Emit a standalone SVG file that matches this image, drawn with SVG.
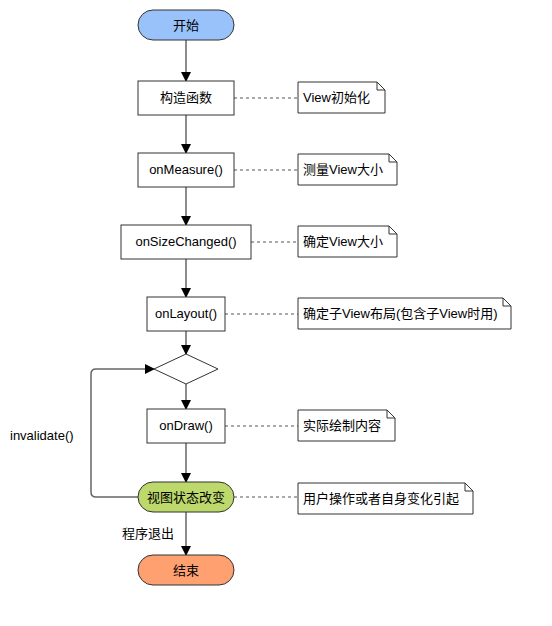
<svg xmlns="http://www.w3.org/2000/svg" width="552" height="626" viewBox="0 0 552 626">
<defs>
<marker id="arr" markerWidth="10" markerHeight="10" refX="9" refY="5" orient="auto" markerUnits="userSpaceOnUse">
<path d="M0,0 L10,5 L0,10 Z" fill="#000"/>
</marker>
<style>
text{font-family:"Liberation Sans","Noto Sans CJK SC",sans-serif;font-size:13px;fill:#000;}
.box{fill:#fff;stroke:#333;stroke-width:1;}
.note{fill:#fff;stroke:#333;stroke-width:1;}
.flow{fill:none;stroke:#666;stroke-width:1.5;}
.dash{fill:none;stroke:#555;stroke-width:1;stroke-dasharray:3,3;}
</style>
</defs>
<rect width="552" height="626" fill="#fff"/>
<g id="connectors">
<line class="flow" x1="186" y1="40" x2="186" y2="81" marker-end="url(#arr)"/>
<line class="flow" x1="186" y1="115" x2="186" y2="153" marker-end="url(#arr)"/>
<line class="flow" x1="186" y1="187" x2="186" y2="225" marker-end="url(#arr)"/>
<line class="flow" x1="186" y1="259" x2="186" y2="297" marker-end="url(#arr)"/>
<line class="flow" x1="186" y1="331" x2="186" y2="354" marker-end="url(#arr)"/>
<line class="flow" x1="186" y1="384" x2="186" y2="409" marker-end="url(#arr)"/>
<line class="flow" x1="186" y1="443" x2="186" y2="482" marker-end="url(#arr)"/>
<line class="flow" x1="186" y1="512" x2="186" y2="555" marker-end="url(#arr)"/>
<path class="flow" d="M138,497 L96,497 Q91,497 91,492 L91,374 Q91,369 96,369 L154,369" marker-end="url(#arr)"/>
<line class="dash" x1="234" y1="98" x2="298" y2="98"/>
<line class="dash" x1="234" y1="170" x2="298" y2="170"/>
<line class="dash" x1="251" y1="242" x2="298" y2="242"/>
<line class="dash" x1="225" y1="314" x2="298" y2="314"/>
<line class="dash" x1="225" y1="426" x2="298" y2="426"/>
<line class="dash" x1="234" y1="497" x2="298" y2="497"/>
<text x="10" y="440">invalidate()</text>
<text x="122" y="538">程序退出</text>
</g>
<g id="start">
<rect x="138" y="10" width="96" height="30" rx="15" fill="#99c2fa" stroke="#333"/>
<text x="186" y="30" text-anchor="middle">开始</text>
</g>
<g id="ctor">
<rect class="box" x="138" y="81" width="96" height="34"/>
<text x="186" y="102" text-anchor="middle">构造函数</text>
</g>
<g id="onMeasure">
<rect class="box" x="138" y="153" width="96" height="34"/>
<text x="186" y="174" text-anchor="middle">onMeasure()</text>
</g>
<g id="onSizeChanged">
<rect class="box" x="121" y="225" width="130" height="34"/>
<text x="186" y="246" text-anchor="middle">onSizeChanged()</text>
</g>
<g id="onLayout">
<rect class="box" x="147" y="297" width="78" height="34"/>
<text x="186" y="318" text-anchor="middle">onLayout()</text>
</g>
<g id="decision">
<polygon class="box" points="186,354 218,369 186,384 154,369"/>
</g>
<g id="onDraw">
<rect class="box" x="147" y="409" width="78" height="34"/>
<text x="186" y="430" text-anchor="middle">onDraw()</text>
</g>
<g id="stateChange">
<rect x="138" y="482" width="96" height="30" rx="15" fill="#bdd86b" stroke="#333"/>
<text x="186" y="502" text-anchor="middle">视图状态改变</text>
</g>
<g id="end">
<rect x="138" y="555" width="96" height="30" rx="15" fill="#ffa070" stroke="#333"/>
<text x="186" y="575" text-anchor="middle">结束</text>
</g>
<g id="note1">
<path class="note" d="M298,82 L377,82 L385,90 L385,113 L298,113 Z M377,82 L377,90 L385,90"/>
<text x="303" y="102">View初始化</text>
</g>
<g id="note2">
<path class="note" d="M298,154 L389,154 L397,162 L397,185 L298,185 Z M389,154 L389,162 L397,162"/>
<text x="303" y="174">测量View大小</text>
</g>
<g id="note3">
<path class="note" d="M298,226 L389,226 L397,234 L397,257 L298,257 Z M389,226 L389,234 L397,234"/>
<text x="303" y="246">确定View大小</text>
</g>
<g id="note4">
<path class="note" d="M298,298 L503,298 L511,306 L511,329 L298,329 Z M503,298 L503,306 L511,306"/>
<text x="303" y="318">确定子View布局(包含子View时用)</text>
</g>
<g id="note5">
<path class="note" d="M298,410 L387,410 L395,418 L395,441 L298,441 Z M387,410 L387,418 L395,418"/>
<text x="303" y="430">实际绘制内容</text>
</g>
<g id="note6">
<path class="note" d="M298,483 L465,483 L473,491 L473,514 L298,514 Z M465,483 L465,491 L473,491"/>
<text x="303" y="503">用户操作或者自身变化引起</text>
</g>
</svg>
